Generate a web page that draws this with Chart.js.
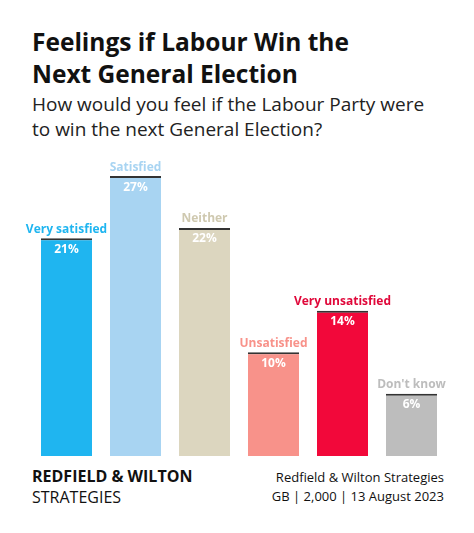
<!DOCTYPE html><html><head><meta charset="utf-8">
<script src="https://cdn.jsdelivr.net/npm/chart.js@4"></script>
<style>
body{margin:0;width:474px;height:533px;background:#fff;font-family:"Montserrat","Open Sans",sans-serif;position:relative;overflow:hidden}
.t{position:absolute;left:32px;top:26px;font-size:24.5px;font-weight:700;line-height:32px;color:#111;font-family:"Open Sans",sans-serif}
.s{position:absolute;left:32px;top:92px;font-size:19px;line-height:25px;color:#222;font-family:"Open Sans",sans-serif}
#w{position:absolute;left:0;top:145px;width:474px;height:311px}
.fl{position:absolute;left:32px;top:466px;font-size:16px;line-height:21px;color:#111;font-family:"Open Sans",sans-serif}
.fr{position:absolute;right:30px;top:468px;font-size:13px;line-height:19px;color:#111;text-align:right;font-family:"Open Sans",sans-serif}
</style></head><body>
<div class="t">Feelings if Labour Win the<br>Next General Election</div>
<div class="s">How would you feel if the Labour Party were<br>to win the next General Election?</div>
<div id="w"><canvas id="c"></canvas></div>
<div class="fl"><b>REDFIELD &amp; WILTON</b><br>STRATEGIES</div>
<div class="fr">Redfield &amp; Wilton Strategies<br>GB | 2,000 | 13 August 2023</div>
<script>
const categories=["Very satisfied","Satisfied","Neither","Unsatisfied","Very unsatisfied","Don't know"];
const values=[21,27,22,10,14,6];
const colors=["#1fb5f0","#a8d4f2","#dcd6bf","#f8928a","#f2083a","#bdbdbd"];
const labelColors=["#1fb5f0","#a8d4f2","#cfc9b0","#f8928a","#e0083a","#bdbdbd"];
const lbl={id:'lbl',afterDatasetsDraw(ch){const x=ch.ctx;const m=ch.getDatasetMeta(0);
x.save();x.textAlign='center';x.font='bold 12px "Open Sans",sans-serif';
m.data.forEach((b,i)=>{x.fillStyle=labelColors[i];x.textBaseline='bottom';x.fillText(categories[i],b.x,b.y-3);
x.fillStyle='#fff';x.textBaseline='top';x.fillText(values[i]+'%',b.x,b.y+5);});
const a=ch.chartArea;x.strokeStyle='#999';x.lineWidth=1;x.beginPath();x.moveTo(a.left,a.bottom+0.5);x.lineTo(a.right,a.bottom+0.5);x.stroke();x.restore();}};
new Chart(document.getElementById('c'),{type:'bar',data:{labels:categories,datasets:[{data:values,backgroundColor:colors,borderColor:'#333',borderWidth:{top:2,left:0,right:0,bottom:0},borderSkipped:false,categoryPercentage:1,barPercentage:0.74}]},
options:{responsive:true,maintainAspectRatio:false,animation:false,layout:{padding:{left:32,right:28,top:0,bottom:0}},plugins:{legend:{display:false},tooltip:{enabled:false}},
scales:{x:{display:false},y:{display:false,min:0,max:30}}},plugins:[lbl]});
</script></body></html>
